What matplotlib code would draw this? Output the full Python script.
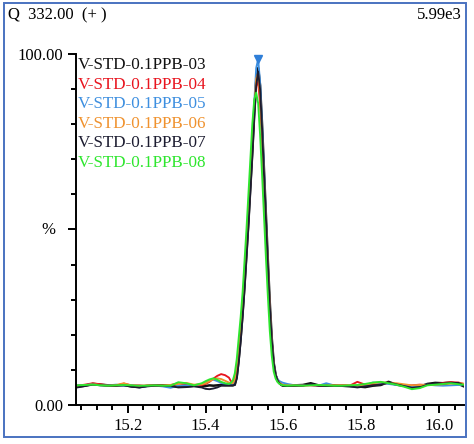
import numpy as np
import matplotlib
matplotlib.use("Agg")
import matplotlib.pyplot as plt
from matplotlib.patches import Rectangle
from matplotlib.ticker import MultipleLocator

plt.rcParams['font.family'] = ['Liberation Serif', 'DejaVu Serif']

# ===============================
# DATA
# ===============================
times = [
    15.07, 15.09, 15.11, 15.13, 15.15, 15.17, 15.19, 15.21, 15.23, 15.25,
    15.27, 15.29, 15.31, 15.33, 15.35, 15.37, 15.39,
    15.40, 15.41, 15.42, 15.43, 15.44, 15.45, 15.46,
    15.465, 15.47, 15.475, 15.48, 15.485, 15.49, 15.495, 15.50, 15.505, 15.51,
    15.515, 15.52, 15.525, 15.53, 15.535, 15.54, 15.545, 15.55, 15.555, 15.56,
    15.565, 15.57, 15.575, 15.58, 15.585, 15.59, 15.595, 15.60,
    15.61, 15.63, 15.65, 15.67, 15.69, 15.71, 15.73, 15.75, 15.77, 15.79,
    15.81, 15.83, 15.85, 15.87, 15.89, 15.91, 15.93, 15.95, 15.97, 15.99,
    16.01, 16.03, 16.05, 16.07,
]

names = [
    "V-STD-0.1PPB-03", "V-STD-0.1PPB-04", "V-STD-0.1PPB-05",
    "V-STD-0.1PPB-06", "V-STD-0.1PPB-07", "V-STD-0.1PPB-08",
]
colors = ["#111111", "#e8141e", "#3d8fe0", "#f0922e", "#1c1c30", "#2ee62e"]

std_03 = [
    5.2, 5.5, 6.0, 5.8, 5.6, 5.6, 5.7, 5.3, 5.1, 5.5, 5.6, 5.6, 5.5, 5.2, 5.3, 5.5, 5.5,
    5.4, 5.6, 5.5, 5.6, 5.7, 5.6, 5.6,
    5.6, 5.6, 5.8, 8, 13, 19, 26, 34, 43, 52, 62, 72, 83, 92, 96, 91, 80, 67, 54, 41,
    29, 19, 12, 8.5, 7, 6.3, 5.8, 5.5,
    5.5, 5.6, 5.7, 6.2, 5.6, 5.5, 5.6, 5.5, 5.4, 5.3, 5.1, 5.5, 5.7, 6.6, 5.8, 5.5,
    5.0, 5.2, 6.0, 6.3, 6.2, 6.4, 6.0, 5.0,
]
std_04 = [
    5.5, 5.8, 6.2, 5.9, 5.6, 5.5, 6.1, 5.6, 5.6, 5.4, 5.6, 5.5, 5.7, 6.2, 5.7, 5.6, 5.7,
    6.0, 6.6, 7.5, 8.3, 8.8, 8.5, 7.8,
    6.8, 6.5, 7.5, 10, 15, 21, 28, 36, 45, 54, 64, 74, 84, 91, 92, 86, 76, 64, 51, 39,
    27, 18, 11.5, 8.2, 6.8, 6.2, 5.8, 5.6,
    5.6, 5.5, 5.6, 5.6, 5.4, 5.6, 5.5, 5.7, 5.5, 6.6, 5.8, 5.7, 6.0, 6.2, 5.8, 5.6,
    5.6, 5.8, 5.7, 5.9, 6.3, 6.5, 6.4, 5.8,
]
std_05 = [
    5.6, 5.7, 5.9, 5.6, 5.6, 5.8, 5.5, 5.6, 5.0, 5.4, 5.5, 5.3, 4.9, 5.5, 5.6, 5.6, 6.0,
    6.5, 7.0, 7.2, 6.8, 6.3, 6.0, 5.9,
    5.9, 6.0, 6.5, 9, 14, 20, 27, 35, 44, 54, 64, 75, 86, 96, 98.5, 92, 80, 67, 53, 40,
    28, 18, 11.5, 8.5, 7.3, 6.8, 6.5, 6.3,
    6.0, 5.6, 5.6, 5.7, 5.5, 6.2, 5.6, 5.5, 5.4, 5.2, 5.5, 6.4, 6.3, 6.0, 5.7, 5.5,
    5.4, 5.6, 5.8, 5.6, 5.5, 5.6, 5.7, 5.6,
]
std_06 = [
    5.5, 5.6, 5.9, 5.7, 5.5, 5.7, 6.2, 5.5, 5.4, 5.6, 5.5, 5.6, 5.7, 6.0, 6.3, 5.8, 5.9,
    6.2, 6.8, 7.3, 7.6, 7.4, 6.9, 6.4,
    6.2, 6.2, 7.0, 9.5, 14.5, 20.5, 27.5, 35.5, 44.5, 54, 64, 74.5, 85, 93, 94.5, 88,
    77, 65, 52, 40, 28, 18, 11.5, 8.3, 7.0, 6.3, 5.9, 5.7,
    5.6, 5.6, 5.5, 5.7, 5.6, 5.5, 5.7, 5.6, 5.6, 5.5, 5.8, 6.2, 6.5, 6.3, 6.2, 5.9,
    5.6, 5.7, 5.7, 5.8, 5.9, 6.1, 6.2, 6.0,
]
std_07 = [
    5.0, 5.4, 5.8, 5.6, 5.5, 5.5, 5.6, 5.2, 5.0, 5.3, 5.5, 5.5, 5.4, 5.0, 5.1, 5.3, 5.0,
    4.6, 4.5, 4.7, 5.0, 5.5, 5.6, 5.6,
    5.6, 5.6, 5.7, 7.5, 12, 18, 25, 33, 42, 51, 61, 71, 82, 91, 95, 90, 79, 66, 53, 40,
    28, 18.5, 12, 8.6, 7.0, 6.1, 5.6, 5.4,
    5.4, 5.5, 5.5, 6.0, 5.5, 5.4, 5.5, 5.4, 5.3, 5.0, 5.3, 5.6, 5.8, 6.4, 5.9, 5.4,
    4.9, 5.0, 5.8, 6.2, 6.1, 6.3, 6.3, 5.2,
]
std_08 = [
    5.6, 5.7, 5.8, 5.6, 5.5, 5.6, 5.7, 5.6, 5.5, 5.5, 5.6, 5.5, 5.5, 6.5, 6.2, 5.6, 6.2,
    6.8, 7.3, 7.6, 7.2, 6.6, 6.2, 6.0,
    6.3, 7.0, 9, 13, 19, 25, 32, 41, 50, 60, 70, 80, 87, 89, 86, 77, 66, 54, 42, 31,
    21, 14, 9.5, 7.5, 6.5, 6.0, 5.7, 5.6,
    5.5, 5.6, 5.5, 5.6, 5.7, 5.6, 5.5, 5.5, 5.6, 5.7, 6.0, 6.4, 6.6, 6.2, 5.8, 5.2,
    4.5, 4.8, 5.6, 5.8, 6.0, 6.2, 5.9, 5.7,
]
series = [std_03, std_04, std_05, std_06, std_07, std_08]

# ===============================
# FIGURE
# ===============================
fig = plt.figure(figsize=(4.74, 4.44), dpi=100)
ax = fig.add_axes([76 / 474, 1 - 405 / 444, 388 / 474, 351 / 444])

# outer blue frame
fig.patches.append(Rectangle((4 / 474, 7 / 444), 462 / 474, 434 / 444,
                             transform=fig.transFigure, fill=False,
                             edgecolor="#4a72c0", linewidth=1.4))

for vals, col in zip(series, colors):
    lw = 1.8 if col == "#111111" else 1.35
    ax.plot(times, vals, color=col, linewidth=lw)

# blue peak marker
blue = np.array(std_05)
i = int(np.argmax(blue))
ax.plot(times[i], blue[i], marker="v", color="#2f7fd8", markersize=6)

ax.set_xlim(15.067, 16.064)
ax.set_ylim(0, 100)

for s in ["top", "right"]:
    ax.spines[s].set_visible(False)
ax.spines["left"].set_linewidth(1.4)
ax.spines["bottom"].set_linewidth(1.4)

ax.xaxis.set_minor_locator(MultipleLocator(0.04))
ax.set_xticks([15.2, 15.4, 15.6, 15.8, 16.0])
ax.set_xticklabels(["15.2", "15.4", "15.6", "15.8", "16.0"])
ax.set_yticks([0, 50, 100])
ax.set_yticklabels(["0.00", "", "100.00"])
ax.yaxis.set_minor_locator(MultipleLocator(10))
ax.tick_params(which="major", length=6, width=1.4, labelsize=12, pad=3)
ax.tick_params(which="minor", length=3.5, width=1.4)

ax.text(-0.07, 0.5, "%", transform=ax.transAxes, ha="center", va="center",
        fontsize=12)

# legend as coloured text lines
for k, (nm, col) in enumerate(zip(names, colors)):
    ax.text(0.005, 0.968 - k * 0.0555, nm, transform=ax.transAxes,
            color=col, fontsize=12.3, ha="left", va="center")

fig.text(8 / 474, 1 - 15 / 444, "Q  332.00  (+ )", fontsize=12, ha="left",
         va="center")
fig.text(462 / 474, 1 - 15 / 444, "5.99e3", fontsize=12, ha="right",
         va="center")

fig.savefig("out.png", dpi=100)
